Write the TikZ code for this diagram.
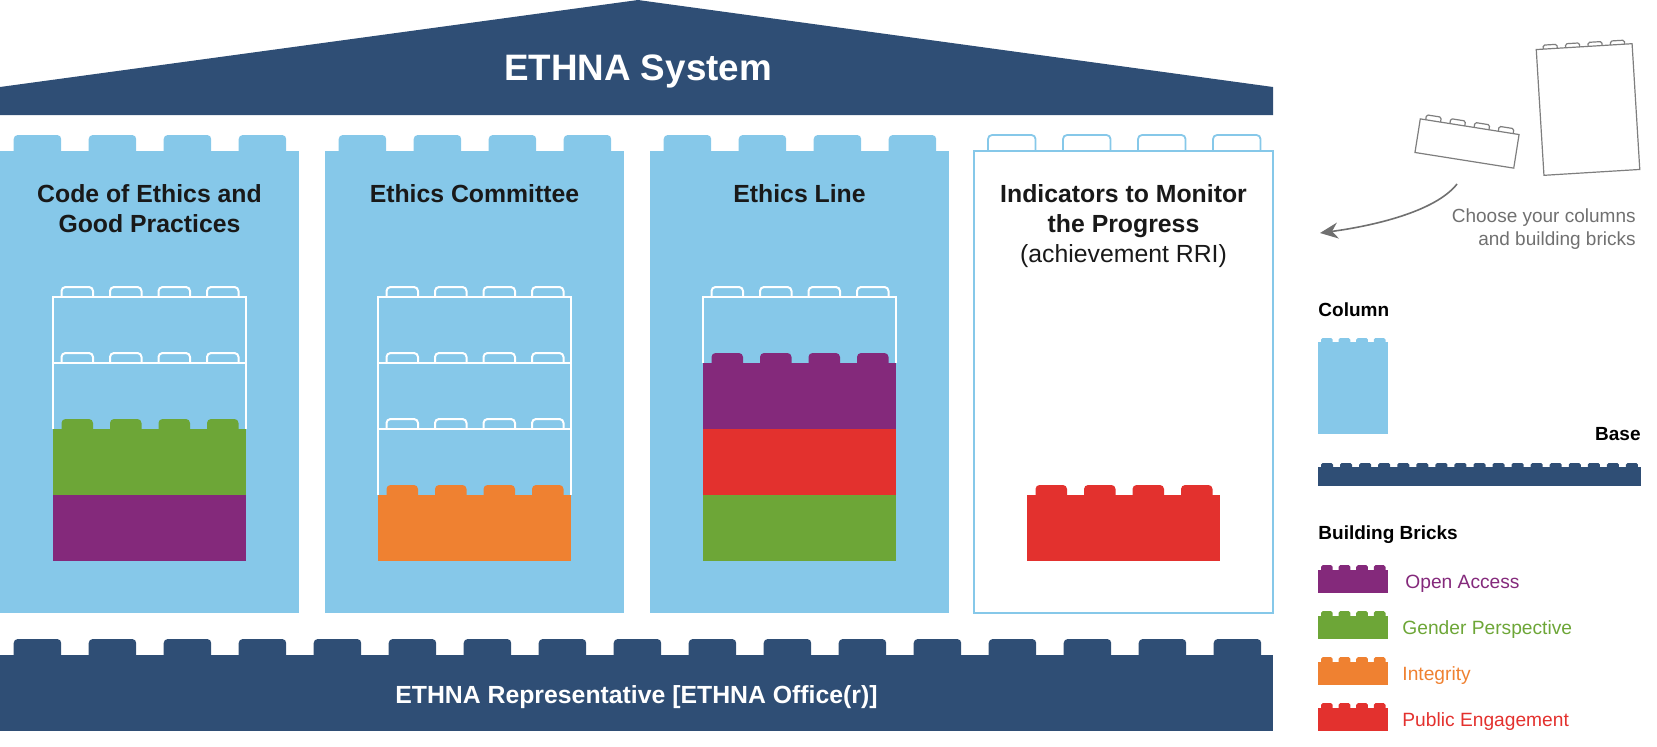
\documentclass[tikz,border=0pt]{standalone}
\usepackage{fontspec}
\setmainfont{Liberation Sans}
\usetikzlibrary{arrows.meta, positioning}

\definecolor{ethnadark}{HTML}{2F4E75}
\definecolor{ethnalight}{HTML}{86C8E9}
\definecolor{brickpurple}{HTML}{84297B}
\definecolor{brickgreen}{HTML}{6DA637}
\definecolor{brickorange}{HTML}{EF8131}
\definecolor{brickred}{HTML}{E3312E}
\definecolor{hintgray}{HTML}{707070}

\tikzstyle{column} = [rectangle, fill=ethnalight, minimum width=149.5pt, minimum height=231pt, inner sep=0, outer sep=0]
\tikzstyle{basebrick} = [rectangle, fill=ethnadark, minimum width=636.5pt, minimum height=38pt, inner sep=0, outer sep=0]
\tikzstyle{brick} = [rectangle, minimum width=96.5pt, minimum height=33pt, inner sep=0, outer sep=0]
\tikzstyle{legbrick} = [rectangle, minimum width=35pt, minimum height=11.75pt, inner sep=0, outer sep=0]
\tikzstyle{wire} = [white, line width=1pt]
\tikzstyle{iconline} = [draw=hintgray!90, line width=0.6pt]
\tikzstyle{coltitle} = [align=center, inner sep=0, text=black!90, font=\fontsize{12.4}{15}\selectfont\bfseries]
\tikzstyle{bigtitle} = [inner sep=0, text=white, font=\fontsize{18.4}{22}\selectfont\bfseries]
\tikzstyle{basetitle} = [inner sep=0, text=white, font=\fontsize{12.4}{15}\selectfont\bfseries]
\tikzstyle{legtitle} = [inner sep=0, text height=6.8pt, text depth=0pt, font=\fontsize{9.5}{11}\selectfont\bfseries]
\tikzstyle{legtext} = [inner sep=0, text height=6.9pt, text depth=0pt, font=\fontsize{9.6}{11}\selectfont]
\tikzstyle{hinttext} = [align=right, inner sep=0, text=hintgray, font=\fontsize{9.5}{11.5}\selectfont]
\tikzstyle{hintarrow} = [hintgray, line width=0.8pt, -{Stealth[length=9pt, width=8pt]}]

% studs on top of a brick: style, corner, count, offset, period, width, height
\newcommand{\studs}[7]{\foreach \k in {1,...,#3}{\fill[#1, shift={(#2)}] ({#4+(\k-1)*#5},4) rectangle ++(#6,{-#7-4});}}
\newcommand{\hollowstuds}[7]{\foreach \k in {1,...,#3}{\draw[#1, shift={(#2)}] ({#4+(\k-1)*#5},0) -- ++(0,{-#7}) -- ++(#6,0) -- ++(0,#7);}}

\begin{document}
\begin{tikzpicture}[x=0.5pt, y=-0.5pt, node distance=0pt]
\useasboundingbox (0,0) rectangle (1657,746);

% roof
\fill[ethnadark] (0,87) -- (638,0) -- (1273,87) -- (1273,115) -- (0,115) -- cycle;
\node (system) [bigtitle, anchor=base] at (638,80) {ETHNA System};

% columns
\node (col1) [column, anchor=north west] at (0,151) {};
\node (col2) [column, right=13pt of col1] {};
\node (col3) [column, right=13pt of col2] {};
\node (col4) [column, fill=white, draw=ethnalight, line width=0.9pt, right=12.5pt of col3] {};
\studs{ethnalight, rounded corners=2pt}{col1.north west}{4}{13.7}{75}{47.5}{16}
\studs{ethnalight, rounded corners=2pt}{col2.north west}{4}{13.7}{75}{47.5}{16}
\studs{ethnalight, rounded corners=2pt}{col3.north west}{4}{13.7}{75}{47.5}{16}
\hollowstuds{ethnalight, line width=0.9pt, rounded corners=2pt}{col4.north west}{4}{14}{75}{47.5}{16}

\node (title1) [coltitle, below=16.7pt of col1.north] {Code of Ethics and\\Good Practices};
\node (title2) [coltitle, below=16.7pt of col2.north] {Ethics Committee};
\node (title3) [coltitle, below=16.7pt of col3.north] {Ethics Line};
\node (title4) [coltitle, below=16.7pt of col4.north] {Indicators to Monitor\\the Progress\\{\mdseries (achievement RRI)}};

% bricks, column 1
\node (b1a) [brick, fill=brickpurple, above=26pt of col1.south] {};
\node (b1b) [brick, fill=brickgreen, above=of b1a] {};
\node (b1c) [brick, above=of b1b] {};
\node (b1d) [brick, above=of b1c] {};
\draw[wire] (b1b.north west) -- (b1d.north west) -- (b1d.north east) -- (b1b.north east);
\draw[wire] (b1c.north west) -- (b1c.north east);
\hollowstuds{wire, rounded corners=2pt}{b1c.north west}{4}{8.5}{48.5}{31.5}{10}
\hollowstuds{wire, rounded corners=2pt}{b1d.north west}{4}{8.5}{48.5}{31.5}{10}
\studs{brickgreen, rounded corners=2pt}{b1b.north west}{4}{8.5}{48.5}{31.5}{10}

% bricks, column 2
\node (b2a) [brick, fill=brickorange, above=26pt of col2.south] {};
\node (b2b) [brick, above=of b2a] {};
\node (b2c) [brick, above=of b2b] {};
\node (b2d) [brick, above=of b2c] {};
\draw[wire] (b2a.north west) -- (b2d.north west) -- (b2d.north east) -- (b2a.north east);
\draw[wire] (b2b.north west) -- (b2b.north east);
\draw[wire] (b2c.north west) -- (b2c.north east);
\hollowstuds{wire, rounded corners=2pt}{b2b.north west}{4}{8.5}{48.5}{31.5}{10}
\hollowstuds{wire, rounded corners=2pt}{b2c.north west}{4}{8.5}{48.5}{31.5}{10}
\hollowstuds{wire, rounded corners=2pt}{b2d.north west}{4}{8.5}{48.5}{31.5}{10}
\studs{brickorange, rounded corners=2pt}{b2a.north west}{4}{8.5}{48.5}{31.5}{10}

% bricks, column 3
\node (b3a) [brick, fill=brickgreen, above=26pt of col3.south] {};
\node (b3b) [brick, fill=brickred, above=of b3a] {};
\node (b3c) [brick, fill=brickpurple, above=of b3b] {};
\node (b3d) [brick, above=of b3c] {};
\draw[wire] (b3c.north west) -- (b3d.north west) -- (b3d.north east) -- (b3c.north east);
\hollowstuds{wire, rounded corners=2pt}{b3d.north west}{4}{8.5}{48.5}{31.5}{10}
\studs{brickpurple, rounded corners=2pt}{b3c.north west}{4}{8.5}{48.5}{31.5}{10}

% bricks, column 4
\node (b4a) [brick, fill=brickred, above=26pt of col4.south] {};
\studs{brickred, rounded corners=2pt}{b4a.north west}{4}{8.5}{48.5}{31.5}{10}

% base
\node (base) [basebrick, anchor=north west] at (0,655) {};
\studs{ethnadark, rounded corners=2pt}{base.north west}{17}{13.7}{75}{47.5}{16}
\node (office) [basetitle, anchor=base] at ([yshift=-5pt]base.center) {ETHNA Representative [ETHNA Office(r)]};

% loose bricks and hint
\begin{scope}[shift={(1588,109.5)}, rotate=3.5]
  \draw[iconline] (-48,-63) rectangle (48,63);
  \hollowstuds{iconline, rounded corners=0.8pt}{-48,-63}{4}{7}{22.5}{14}{4}
\end{scope}
\begin{scope}[shift={(1467,143.5)}, rotate=-9]
  \draw[iconline] (-50,-17) rectangle (50,17);
  \hollowstuds{iconline, rounded corners=0.8pt}{-50,-17}{4}{5.5}{24.5}{15}{5}
\end{scope}
\coordinate (pick) at (1457,184);
\coordinate (drop) at (1320,233);
\draw[hintarrow] (pick) .. controls (1435,212) and (1372,226) .. (drop);
\node (hint) [hinttext, anchor=north east] at (1636,208) {Choose your columns\\and building bricks};

% legend
\node (legcolumntext) [legtitle, anchor=west] at (1318,310) {Column};
\node (legcolumn) [rectangle, fill=ethnalight, minimum width=35pt, minimum height=46pt, inner sep=0, outer sep=0, anchor=north west] at (1318,342) {};
\studs{ethnalight, rounded corners=0.8pt}{legcolumn.north west}{4}{3}{17.6}{11.7}{4}

\node (legbasetext) [legtitle, anchor=east] at (1641,434) {Base};
\node (legbase) [rectangle, fill=ethnadark, minimum width=161.5pt, minimum height=9.5pt, inner sep=0, outer sep=0, anchor=north west] at (1318,467) {};
\studs{ethnadark, rounded corners=0.8pt}{legbase.north west}{17}{3}{19.06}{12}{4}

\node (legbrickstext) [legtitle, anchor=west] at (1318,533) {Building Bricks};
\node (legpurple) [legbrick, fill=brickpurple, anchor=north west] at (1318,569.5) {};
\node (leggreen) [legbrick, fill=brickgreen, below=11.25pt of legpurple] {};
\node (legorange) [legbrick, fill=brickorange, below=11.25pt of leggreen] {};
\node (legred) [legbrick, fill=brickred, below=11.25pt of legorange] {};
\studs{brickpurple, rounded corners=0.8pt}{legpurple.north west}{4}{3}{17.6}{11.7}{4.3}
\studs{brickgreen, rounded corners=0.8pt}{leggreen.north west}{4}{3}{17.6}{11.7}{4.3}
\studs{brickorange, rounded corners=0.8pt}{legorange.north west}{4}{3}{17.6}{11.7}{4.3}
\studs{brickred, rounded corners=0.8pt}{legred.north west}{4}{3}{17.6}{11.7}{4.3}
\node (legpurpletext) [legtext, text=brickpurple, right=8.5pt of legpurple] {Open Access};
\node (leggreentext) [legtext, text=brickgreen, right=7pt of leggreen] {Gender Perspective};
\node (legorangetext) [legtext, text=brickorange, right=7pt of legorange] {Integrity};
\node (legredtext) [legtext, text=brickred, right=7pt of legred] {Public Engagement};
\end{tikzpicture}
\end{document}
